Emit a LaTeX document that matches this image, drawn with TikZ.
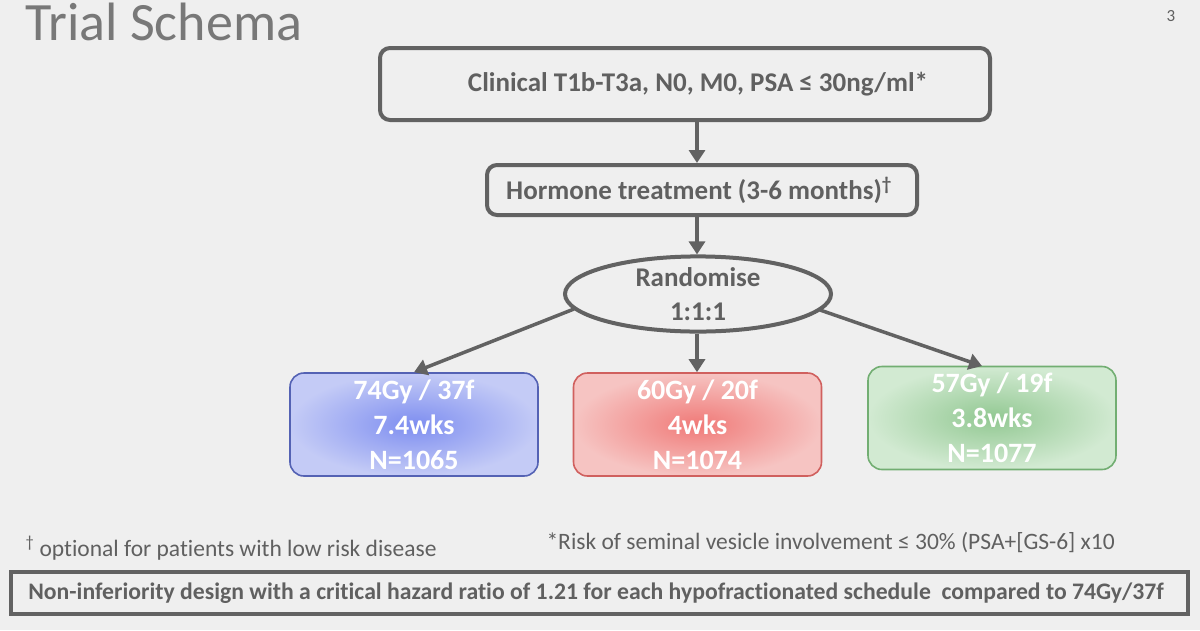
\documentclass[tikz,border=0pt]{standalone}
\usepackage{fontspec}
\setmainfont{Carlito}[Ligatures={NoCommon}]
\usetikzlibrary{shapes.geometric,arrows.meta}
\definecolor{bg}{HTML}{EFEFEF}
\definecolor{ln}{HTML}{626262}
\definecolor{tx}{HTML}{606060}
\definecolor{bluein}{HTML}{7E8EF0}
\definecolor{blueout}{HTML}{C4CBF6}
\definecolor{blueln}{HTML}{5462B4}
\definecolor{redin}{HTML}{F07A78}
\definecolor{redout}{HTML}{F6C4C2}
\definecolor{redln}{HTML}{D0605E}
\definecolor{grnin}{HTML}{92C892}
\definecolor{grnout}{HTML}{D2EAD2}
\definecolor{grnln}{HTML}{72AE72}
\tikzset{
  flowbox/.style={draw=ln, line width=4pt, rounded corners=10pt, text=tx, font=\fontsize{27}{30}\selectfont\bfseries, align=center},
  arm/.style={rounded corners=14pt, line width=1.6pt, text=white, font=\fontsize{28}{35}\selectfont\bfseries, align=center, minimum width=248pt, minimum height=103pt},
  conn/.style={draw=ln, line width=3.5pt, -{Triangle[width=16pt,length=13pt]}},
  note/.style={text=tx, font=\fontsize{23.5}{26}\selectfont, anchor=west}
}
\begin{document}
\begin{tikzpicture}[x=1pt,y=-1pt]
\fill[bg] (0,0) rectangle (1200,630);
\useasboundingbox (0,0) rectangle (1200,630);
\node[anchor=west, text=tx!85, font=\fontsize{54}{58}\selectfont] (title) at (22,22) {Trial Schema};
\node[text=tx, font=\fontsize{17}{20}\selectfont] (pg) at (1171,16) {3};
\node[flowbox, minimum width=610pt, minimum height=72pt] (elig) at (685,84) {\hspace*{26pt}Clinical T1b-T3a, N0, M0, PSA ≤ 30ng/ml*};
\node[flowbox, minimum width=430pt, minimum height=50pt] (horm) at (702,190) {Hormone treatment (3-6 months)\textsuperscript{\dag}\hspace*{6pt}};
\node[draw=ln, line width=4pt, ellipse, minimum width=266pt, minimum height=64pt, text=tx, font=\fontsize{27}{34}\selectfont\bfseries, align=center, inner sep=0pt] (rand) at (698,294) {Randomise\\1:1:1};
\node[arm, draw=blueln, inner color=bluein, outer color=blueout] (a1) at (414,424.5) {74Gy / 37f\\7.4wks\\N=1065};
\node[arm, draw=redln, inner color=redin, outer color=redout] (a2) at (697.5,424.5) {60Gy / 20f\\4wks\\N=1074};
\node[arm, draw=grnln, inner color=grnin, outer color=grnout] (a3) at (992,418) {57Gy / 19f\\3.8wks\\N=1077};
\draw[conn] (elig.south -| 697,0) -- (horm.north -| 697,0);
\draw[conn] (horm.south -| 697,0) -- (rand.north -| 697,0);
\draw[conn] (rand.south -| 697,0) -- (a2.north -| 697,0);
\coordinate (l0) at (574,309);
\coordinate (r0) at (820,310);
\draw[conn] (l0) -- (a1.north);
\draw[conn] (r0) -- (982,366);
\node[note] (fn1) at (22,548) {\textsuperscript{\dag} optional for patients with low risk disease};
\node[note] (fn2) at (543,543) {*Risk of seminal vesicle involvement ≤ 30\% (PSA+[GS-6] x10};
\node[draw=ln, line width=4pt, minimum width=1177pt, minimum height=42pt, text=tx, font=\fontsize{23.7}{26}\selectfont\bfseries, inner sep=0pt] (ni) at (599,593) {Non-inferiority design with a critical hazard ratio of 1.21 for each hypofractionated schedule\ \ compared to 74Gy/37f\hspace*{6pt}};
\end{tikzpicture}
\end{document}
